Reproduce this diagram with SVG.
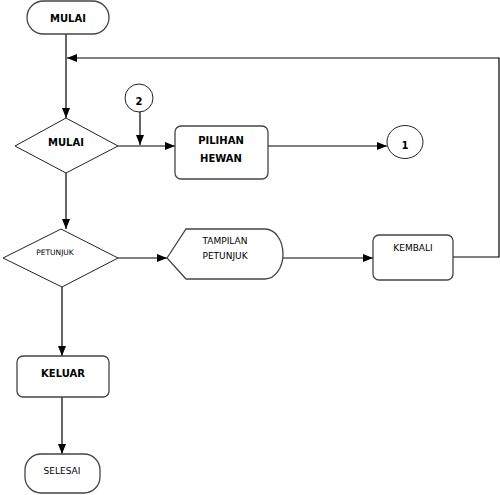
<svg xmlns="http://www.w3.org/2000/svg" width="500" height="495" viewBox="0 0 500 495">
<defs>
<marker id="ah" markerWidth="10" markerHeight="8" refX="10" refY="4" orient="auto" markerUnits="userSpaceOnUse">
<path d="M0,0 L10,4 L0,8 Z" fill="#000"/>
</marker>
<style>
.shape{fill:#fff;stroke:#444;stroke-width:1.3}
.thin{fill:#fff;stroke:#222;stroke-width:1}
.edge{fill:none;stroke:#000;stroke-width:1.2}
.b{font-family:"DejaVu Sans",Verdana,sans-serif;font-weight:bold;font-size:10px;fill:#000;text-anchor:middle}
.n{font-family:"DejaVu Sans",Verdana,sans-serif;font-size:9px;fill:#000;text-anchor:middle}
.s{font-family:"DejaVu Sans",Verdana,sans-serif;font-size:7.5px;fill:#000;text-anchor:middle}
</style>
</defs>
<rect width="500" height="495" fill="#fff"/>
<g id="connectors">
<path class="edge" d="M66,34 V118" marker-end="url(#ah)"/>
<path class="edge" d="M453,257 H499 V58 H67" marker-end="url(#ah)"/>
<path class="edge" d="M140,112 V145" marker-end="url(#ah)"/>
<path class="edge" d="M118,146 H175" marker-end="url(#ah)"/>
<path class="edge" d="M268,146 H387" marker-end="url(#ah)"/>
<path class="edge" d="M66,173 V229" marker-end="url(#ah)"/>
<path class="edge" d="M118,258 H167" marker-end="url(#ah)"/>
<path class="edge" d="M283,258 H373" marker-end="url(#ah)"/>
<path class="edge" d="M62,287 V356" marker-end="url(#ah)"/>
<path class="edge" d="M62,397 V454" marker-end="url(#ah)"/>
</g>
<g id="start">
<rect class="shape" x="27" y="1" width="82" height="33" rx="16.5"/>
<text class="b" x="68" y="22">MULAI</text>
</g>
<g id="decision-mulai">
<polygon class="thin" points="66,118 118,146 66,173 15,146"/>
<text class="b" x="66" y="146">MULAI</text>
</g>
<g id="connector-2">
<circle class="thin" cx="139" cy="98" r="14"/>
<text class="b" x="139" y="105">2</text>
</g>
<g id="pilihan-hewan">
<rect class="shape" x="175" y="126" width="93" height="53" rx="6"/>
<text class="b" x="221" y="144">PILIHAN</text>
<text class="b" x="221" y="162">HEWAN</text>
</g>
<g id="connector-1">
<ellipse class="thin" cx="405" cy="142" rx="18" ry="16.5"/>
<text class="b" x="405" y="149">1</text>
</g>
<g id="decision-petunjuk">
<polygon class="thin" points="61,229 118,258 62,287 3,258"/>
<text class="s" x="55" y="255">PETUNJUK</text>
</g>
<g id="tampilan-petunjuk">
<path class="shape" d="M167,258 L186,229 H265 A18,25 0 0 1 265,279 H186 Z"/>
<text class="n" x="225" y="244">TAMPILAN</text>
<text class="n" x="225" y="259">PETUNJUK</text>
</g>
<g id="kembali">
<rect class="shape" x="373" y="235" width="80" height="45" rx="6"/>
<text class="n" x="413" y="251">KEMBALI</text>
</g>
<g id="keluar">
<rect class="shape" x="17" y="356" width="92" height="41" rx="6"/>
<text class="b" x="63" y="377">KELUAR</text>
</g>
<g id="selesai">
<rect class="shape" x="25" y="454" width="75" height="39" rx="16"/>
<text class="n" x="62" y="474">SELESAI</text>
</g>
</svg>
